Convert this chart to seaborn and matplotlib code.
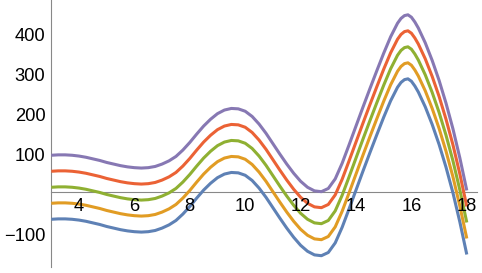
import numpy as np
import pandas as pd
import matplotlib
matplotlib.use("Agg")
import matplotlib.pyplot as plt
import matplotlib.transforms as mtransforms
from matplotlib.ticker import MultipleLocator
import seaborn as sns

x = [3.0, 3.25, 3.5, 3.75, 4.0, 4.25, 4.5, 4.75, 5.0, 5.25, 5.5, 5.75,
     6.0, 6.25, 6.5, 6.75, 7.0, 7.25, 7.5, 7.75, 8.0, 8.25, 8.5, 8.75,
     9.0, 9.25, 9.5, 9.75, 10.0, 10.25, 10.5, 10.75, 11.0, 11.25, 11.5, 11.75,
     12.0, 12.25, 12.5, 12.75, 13.0, 13.25, 13.5, 13.75, 14.0, 14.25, 14.5, 14.75,
     15.0, 15.25, 15.5,
     15.625, 15.75, 15.875, 16.0, 16.125, 16.25,
     16.5, 16.75, 17.0, 17.25, 17.5, 17.75, 18.0]

blue = [-68, -67, -67, -68, -70, -73, -77, -81, -86, -90, -94, -97,
        -99, -100, -99, -96, -90, -82, -71, -55, -36, -15, 5, 22,
        36, 45, 49, 48, 42, 29, 10, -13, -39, -65, -90, -113,
        -133, -148, -157, -159, -151, -127, -88, -42, 5, 52, 98, 143,
        187, 228, 262,
        274, 281, 283, 277, 265, 250,
        213, 169, 119, 62, -2, -75, -156]
orange = [-28, -27, -27, -28, -30, -33, -37, -41, -46, -50, -54, -57,
          -59, -60, -59, -56, -50, -42, -31, -15, 4, 25, 45, 62,
          76, 85, 89, 88, 82, 69, 50, 27, 1, -25, -50, -73,
          -93, -108, -117, -119, -111, -87, -48, -2, 45, 92, 138, 183,
          227, 268, 302,
          314, 321, 323, 317, 305, 290,
          253, 209, 159, 102, 38, -35, -116]
green = [12, 13, 13, 12, 10, 7, 3, -1, -6, -10, -14, -17,
         -19, -20, -19, -16, -10, -2, 9, 25, 44, 65, 85, 102,
         116, 125, 129, 128, 122, 109, 90, 67, 41, 15, -10, -33,
         -53, -68, -77, -79, -71, -47, -8, 38, 85, 132, 178, 223,
         267, 308, 342,
         354, 361, 363, 357, 345, 330,
         293, 249, 199, 142, 78, 5, -76]
red = [52, 53, 53, 52, 50, 47, 43, 39, 34, 30, 26, 23,
       21, 20, 21, 24, 30, 38, 49, 65, 84, 105, 125, 142,
       156, 165, 169, 168, 162, 149, 130, 107, 81, 55, 30, 7,
       -13, -28, -37, -39, -31, -7, 32, 78, 125, 172, 218, 263,
       307, 348, 382,
       394, 401, 403, 397, 385, 370,
       333, 289, 239, 182, 118, 45, -36]
purple = [92, 93, 93, 92, 90, 87, 83, 79, 74, 70, 66, 63,
          61, 60, 61, 64, 70, 78, 89, 105, 124, 145, 165, 182,
          196, 205, 209, 208, 202, 189, 170, 147, 121, 95, 70, 47,
          27, 12, 3, 1, 9, 33, 72, 118, 165, 212, 258, 303,
          347, 388, 422,
          434, 441, 443, 437, 425, 410,
          373, 329, 279, 222, 158, 85, 4]

series_names = ["s1", "s2", "s3", "s4", "s5"]
series_values = [blue, orange, green, red, purple]
colors = ["#5E81B5", "#E19C24", "#8FB032", "#EB6235", "#8778B3"]

x_ticks = [4, 6, 8, 10, 12, 14, 16, 18]
y_ticks = [-100, 100, 200, 300, 400]

rows = []
for name, vals in zip(series_names, series_values):
    for xi, yi in zip(x, vals):
        rows.append({"x": xi, "y": yi, "series": name})
df = pd.DataFrame(rows)

sns.set_style("white")
plt.rcParams["font.family"] = ["Liberation Sans", "DejaVu Sans"]

W, H = 482, 273
fig = plt.figure(figsize=(W / 100, H / 100), dpi=100)
left_px, right_px, bottom_px = 51.3, 476.7, 266.5
ax = fig.add_axes([left_px / W, 1 - bottom_px / H, (right_px - left_px) / W, bottom_px / H])

sns.lineplot(data=df, x="x", y="y", hue="series", hue_order=series_names,
             palette=colors, linewidth=2.2, legend=False, ax=ax,
             estimator=None, sort=False)
for ln in ax.lines:
    ln.set_clip_on(False)
    ln.set_solid_capstyle("butt")
    ln.set_solid_joinstyle("round")

ax.set_xlim(3, 3 + (right_px - left_px) / 27.7)
ax.set_ylim(-186, 480)
ax.set_axisbelow(False)

ax.spines["top"].set_visible(False)
ax.spines["right"].set_visible(False)
ax.spines["bottom"].set_position(("data", 0))
ax.spines["left"].set_position(("data", 3))
axis_color = "#888888"
for s in ("bottom", "left"):
    ax.spines[s].set_color(axis_color)
    ax.spines[s].set_linewidth(0.8)
    ax.spines[s].set_zorder(1.5)

ax.set_xticks(x_ticks)
ax.set_xticklabels([str(t) for t in x_ticks])
ax.set_yticks(y_ticks)
ax.set_yticklabels(["\u2212100" if t < 0 else str(t) for t in y_ticks])
ax.xaxis.set_minor_locator(MultipleLocator(0.5))
ax.yaxis.set_minor_locator(MultipleLocator(20))

ax.tick_params(which="major", direction="in", length=3.6, width=0.7,
               color=axis_color, labelsize=13.2, labelcolor="black", pad=4.2)
ax.tick_params(which="minor", direction="in", length=2.0, width=0.6,
               color=axis_color)
ax.set_xlabel("")
ax.set_ylabel("")
ax.grid(False)

shift = mtransforms.ScaledTranslation(0, -2.5 / 100, fig.dpi_scale_trans)
for lab in ax.get_yticklabels():
    lab.set_transform(lab.get_transform() + shift)

fig.savefig("out.png", dpi=100)
